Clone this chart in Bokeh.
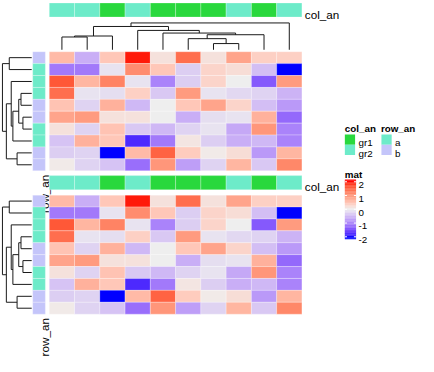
import numpy as np
from bokeh.plotting import figure
from bokeh.models import Range1d, ColumnDataSource
from bokeh.core.properties import value
from bokeh.embed import file_html
from bokeh.resources import INLINE

# ---------------- data (displayed / clustered order) ----------------
mat = [
    [0.60, -0.60, 0.45, 1.95, 0.15, 1.40, 0.15, 0.85, 0.35, 0.35],
    [-1.10, -1.10, -0.10, 1.10, 0.45, -0.30, 0.30, 0.20, -0.45, -2.10],
    [1.60, 0.65, 1.20, -0.10, -1.00, -0.30, 0.30, 0.00, -1.40, 0.95],
    [1.40, -0.10, -0.15, 0.35, -0.35, 0.95, -0.10, -0.20, -0.25, -0.55],
    [0.50, -0.25, 0.70, -0.50, 0.00, 0.45, 0.85, 0.30, -0.45, -0.80],
    [0.85, 0.95, 0.15, 0.15, 0.00, -0.60, -0.15, -0.10, 0.70, -1.25],
    [0.15, -0.25, 0.50, -0.35, -0.50, -0.25, -0.10, -0.65, 1.00, -1.00],
    [-0.40, 0.70, 0.45, -1.80, -1.10, 0.10, -0.30, -0.60, -0.50, -1.00],
    [-0.30, -0.25, -2.00, 0.60, 1.50, 0.40, 0.05, 0.20, -0.80, 0.65],
    [0.05, -0.25, -0.40, -1.20, 1.00, -0.75, -0.25, 0.65, -0.35, 1.15],
]
col_an = ["gr2", "gr2", "gr1", "gr2", "gr1", "gr1", "gr1", "gr2", "gr1", "gr2"]
row_an = ["b", "a", "a", "a", "b", "b", "a", "a", "b", "b"]
col_an_levels = ["gr1", "gr2"]
row_an_levels = ["a", "b"]
legend_ticks = [2, 1, 0, -1, -2]

# hclust-style merges (negative = leaf position, positive = earlier merge)
col_merge = [(-1, -2), (1, -3), (-7, -8), (-6, 3), (4, -9), (-5, 5), (-4, 6), (2, 7), (8, -10)]
col_height = [13.0, 14.0, 6.3, 11.3, 15.3, 17.0, 19.7, 23.7, 27.3]
row_merge = [(-1, -2), (-4, -5), (-6, -7), (2, 3), (4, -8), (-3, 5), (-9, -10), (6, 7), (1, 8)]
row_height = [23.0, 11.0, 9.0, 13.3, 19.3, 21.0, 15.0, 26.0, 30.0]

# ---------------- styling ----------------
anno_colors = {"gr1": "#29D83D", "gr2": "#6DEBC9", "a": "#6DEBC9", "b": "#C4C5FA"}
FONT = value("Liberation Sans")

# ---------------- colour ramp (LAB, like circlize::colorRamp2) ----------------
M = np.array([[0.4124564, 0.3575761, 0.1804375],
              [0.2126729, 0.7151522, 0.0721750],
              [0.0193339, 0.1191920, 0.9503041]])
WHITE = np.array([0.95047, 1.0, 1.08883])


def hex2rgb(h):
    h = h.lstrip("#")
    return np.array([int(h[i:i + 2], 16) / 255 for i in (0, 2, 4)])


def rgb2lab(c):
    lin = np.where(c <= 0.04045, c / 12.92, ((c + 0.055) / 1.055) ** 2.4)
    xyz = M @ lin / WHITE
    d = 6 / 29
    f = np.where(xyz > d ** 3, np.cbrt(xyz), xyz / (3 * d * d) + 4 / 29)
    return np.array([116 * f[1] - 16, 500 * (f[0] - f[1]), 200 * (f[1] - f[2])])


def lab2hex(lab):
    L, a, b = lab
    fy = (L + 16) / 116
    fx = fy + a / 500
    fz = fy - b / 200
    d = 6 / 29
    f = np.array([fx, fy, fz])
    xyz = np.where(f > d, f ** 3, 3 * d * d * (f - 4 / 29)) * WHITE
    lin = np.linalg.solve(M, xyz)
    lin = np.clip(lin, 0, 1)
    c = np.where(lin <= 0.0031308, 12.92 * lin, 1.055 * lin ** (1 / 2.4) - 0.055)
    c = np.clip(np.round(c * 255), 0, 255).astype(int)
    return "#%02x%02x%02x" % tuple(c)


LAB_BLUE = rgb2lab(hex2rgb("#0000FF"))
LAB_MID = rgb2lab(hex2rgb("#EEEEEE"))
LAB_RED = rgb2lab(hex2rgb("#FF0000"))


def colmap(v):
    v = max(-2.0, min(2.0, v))
    if v <= 0:
        t = (v + 2) / 2
        return lab2hex(LAB_BLUE + (LAB_MID - LAB_BLUE) * t)
    t = v / 2
    return lab2hex(LAB_MID + (LAB_RED - LAB_MID) * t)


# ---------------- layout (reference pixel units) ----------------
BODY_L, BODY_R = 53.0, 312.0
NC, NR = len(col_an), len(row_an)
CW = (BODY_R - BODY_L) / NC
RH = 12.2
ROW_AN_L, ROW_AN_R = 36.0, 49.0
HEATMAPS = [  # body top, col-annotation top/bottom
    dict(body=55.0, ct=5.0, cb=19.5, dendro=True),
    dict(body=202.0, ct=182.0, cb=196.5, dendro=False),
]
COLD_LEAF, COLD_ROOT = 53.0, 25.5
ROWD_LEAF, ROWD_ROOT = 35.0, 5.0

p = figure(width=418, height=356, x_range=Range1d(3.0, 431.5), y_range=Range1d(367.4, 2.5),
           output_backend="svg", toolbar_location=None, min_border=0)
p.axis.visible = False
p.grid.visible = False
p.outline_line_color = None
p.background_fill_color = "white"
p.border_fill_color = "white"


def dendro(merge, heights, leaf_pos):
    pos, hgt = {}, {}
    segs = []
    for k, (a, b) in enumerate(merge, start=1):
        def get(c):
            return (leaf_pos[-c - 1], 0.0) if c < 0 else (pos[c], hgt[c])
        pa, ha = get(a)
        pb, hb = get(b)
        h = heights[k - 1]
        pos[k], hgt[k] = (pa + pb) / 2, h
        segs += [(pa, ha, pa, h), (pb, hb, pb, h), (pa, h, pb, h)]
    return segs


def draw_heatmap(hm):
    top = hm["body"]
    # body cells
    L, R, T, B, C = [], [], [], [], []
    for i, row in enumerate(mat):
        for j, v in enumerate(row):
            L.append(BODY_L + j * CW); R.append(BODY_L + (j + 1) * CW)
            T.append(top + i * RH); B.append(top + (i + 1) * RH)
            C.append(colmap(v))
    p.quad(left=L, right=R, top=T, bottom=B, fill_color=C,
           line_color="white", line_alpha=0.45, line_width=0.6)
    # column annotation
    p.quad(left=[BODY_L + j * CW for j in range(NC)], right=[BODY_L + (j + 1) * CW for j in range(NC)],
           top=[hm["ct"]] * NC, bottom=[hm["cb"]] * NC,
           fill_color=[anno_colors[g] for g in col_an], line_color="white", line_alpha=0.45, line_width=0.6)
    p.text(x=[BODY_R + 3], y=[(hm["ct"] + hm["cb"]) / 2 + 4.4], text=["col_an"], text_font=FONT,
           text_font_size="11.7px", text_baseline="alphabetic", text_align="left", text_color="black")
    # row annotation
    p.quad(left=[ROW_AN_L] * NR, right=[ROW_AN_R] * NR,
           top=[top + i * RH for i in range(NR)], bottom=[top + (i + 1) * RH for i in range(NR)],
           fill_color=[anno_colors[g] for g in row_an], line_color="white", line_alpha=0.45, line_width=0.6)
    # row dendrogram
    leaf_y = [top + (i + 0.5) * RH for i in range(NR)]
    hmax = max(row_height)
    segs = dendro(row_merge, row_height, leaf_y)
    p.segment(x0=[ROWD_LEAF - s[1] / hmax * (ROWD_LEAF - ROWD_ROOT) for s in segs], y0=[s[0] for s in segs],
              x1=[ROWD_LEAF - s[3] / hmax * (ROWD_LEAF - ROWD_ROOT) for s in segs], y1=[s[2] for s in segs],
              line_color="#1a1a1a", line_width=1)
    if hm["dendro"]:
        leaf_x = [BODY_L + (j + 0.5) * CW for j in range(NC)]
        hmax = max(col_height)
        segs = dendro(col_merge, col_height, leaf_x)
        p.segment(x0=[s[0] for s in segs], y0=[COLD_LEAF - s[1] / hmax * (COLD_LEAF - COLD_ROOT) for s in segs],
                  x1=[s[2] for s in segs], y1=[COLD_LEAF - s[3] / hmax * (COLD_LEAF - COLD_ROOT) for s in segs],
                  line_color="#1a1a1a", line_width=1)
    # rotated row annotation name below the body
    p.text(x=[ROW_AN_R - 0.8], y=[top + NR * RH + 4], text=["row_an"], angle=np.pi / 2, text_font=FONT,
           text_font_size="11.7px", text_baseline="alphabetic", text_align="right", text_color="black")


for hm in HEATMAPS:
    draw_heatmap(hm)

# ---------------- legends ----------------
LX1, LX2 = 356.0, 393.5
SQ = 10.5
SQ_TOP = 139.8
p.text(x=[LX1, LX2 - 0.5], y=[134, 134], text=["col_an", "row_an"], text_font=FONT, text_font_size="9.8px",
       text_font_style="bold", text_baseline="alphabetic", text_align="left", text_color="black")
for lx, levels in ((LX1, col_an_levels), (LX2, row_an_levels)):
    n = len(levels)
    p.quad(left=[lx] * n, right=[lx + SQ] * n, top=[SQ_TOP + k * SQ for k in range(n)],
           bottom=[SQ_TOP + (k + 1) * SQ for k in range(n)], fill_color=[anno_colors[g] for g in levels],
           line_color=None)
    p.text(x=[lx + SQ + 3.5] * n, y=[SQ_TOP + (k + 0.5) * SQ + 3.4 for k in range(n)], text=levels,
           text_font=FONT, text_font_size="9.8px", text_baseline="alphabetic", text_align="left",
           text_color="black")

# colour bar
p.text(x=[LX1], y=[181], text=["mat"], text_font=FONT, text_font_size="9.8px", text_font_style="bold",
       text_baseline="alphabetic", text_align="left", text_color="black")
BAR_T, BAR_B, BAR_W = 186.0, 247.0, 11.5
TICK_T, TICK_B = 188.3, 244.7
nstep = 80
edges = np.linspace(BAR_T, BAR_B, nstep + 1)
vals = [legend_ticks[0] - ((edges[k] + edges[k + 1]) / 2 - TICK_T) / (TICK_B - TICK_T)
        * (legend_ticks[0] - legend_ticks[-1]) for k in range(nstep)]
p.quad(left=[LX1] * nstep, right=[LX1 + BAR_W] * nstep, top=list(edges[:-1]), bottom=list(edges[1:] + 0.3),
       fill_color=[colmap(v) for v in vals], line_color=None)
tick_y = [TICK_T + (legend_ticks[0] - t) / (legend_ticks[0] - legend_ticks[-1]) * (TICK_B - TICK_T)
          for t in legend_ticks]
p.segment(x0=[LX1] * 5 + [LX1 + BAR_W - 2.2] * 5, y0=tick_y * 2, x1=[LX1 + 2.2] * 5 + [LX1 + BAR_W] * 5,
          y1=tick_y * 2, line_color="white", line_width=1)
p.text(x=[LX1 + BAR_W + 2.5] * 5, y=[y + 3.4 for y in tick_y], text=[str(t) for t in legend_ticks],
       text_font=FONT, text_font_size="9.8px", text_baseline="alphabetic", text_align="left", text_color="black")

open("out.html", "w").write(file_html(p, INLINE))
